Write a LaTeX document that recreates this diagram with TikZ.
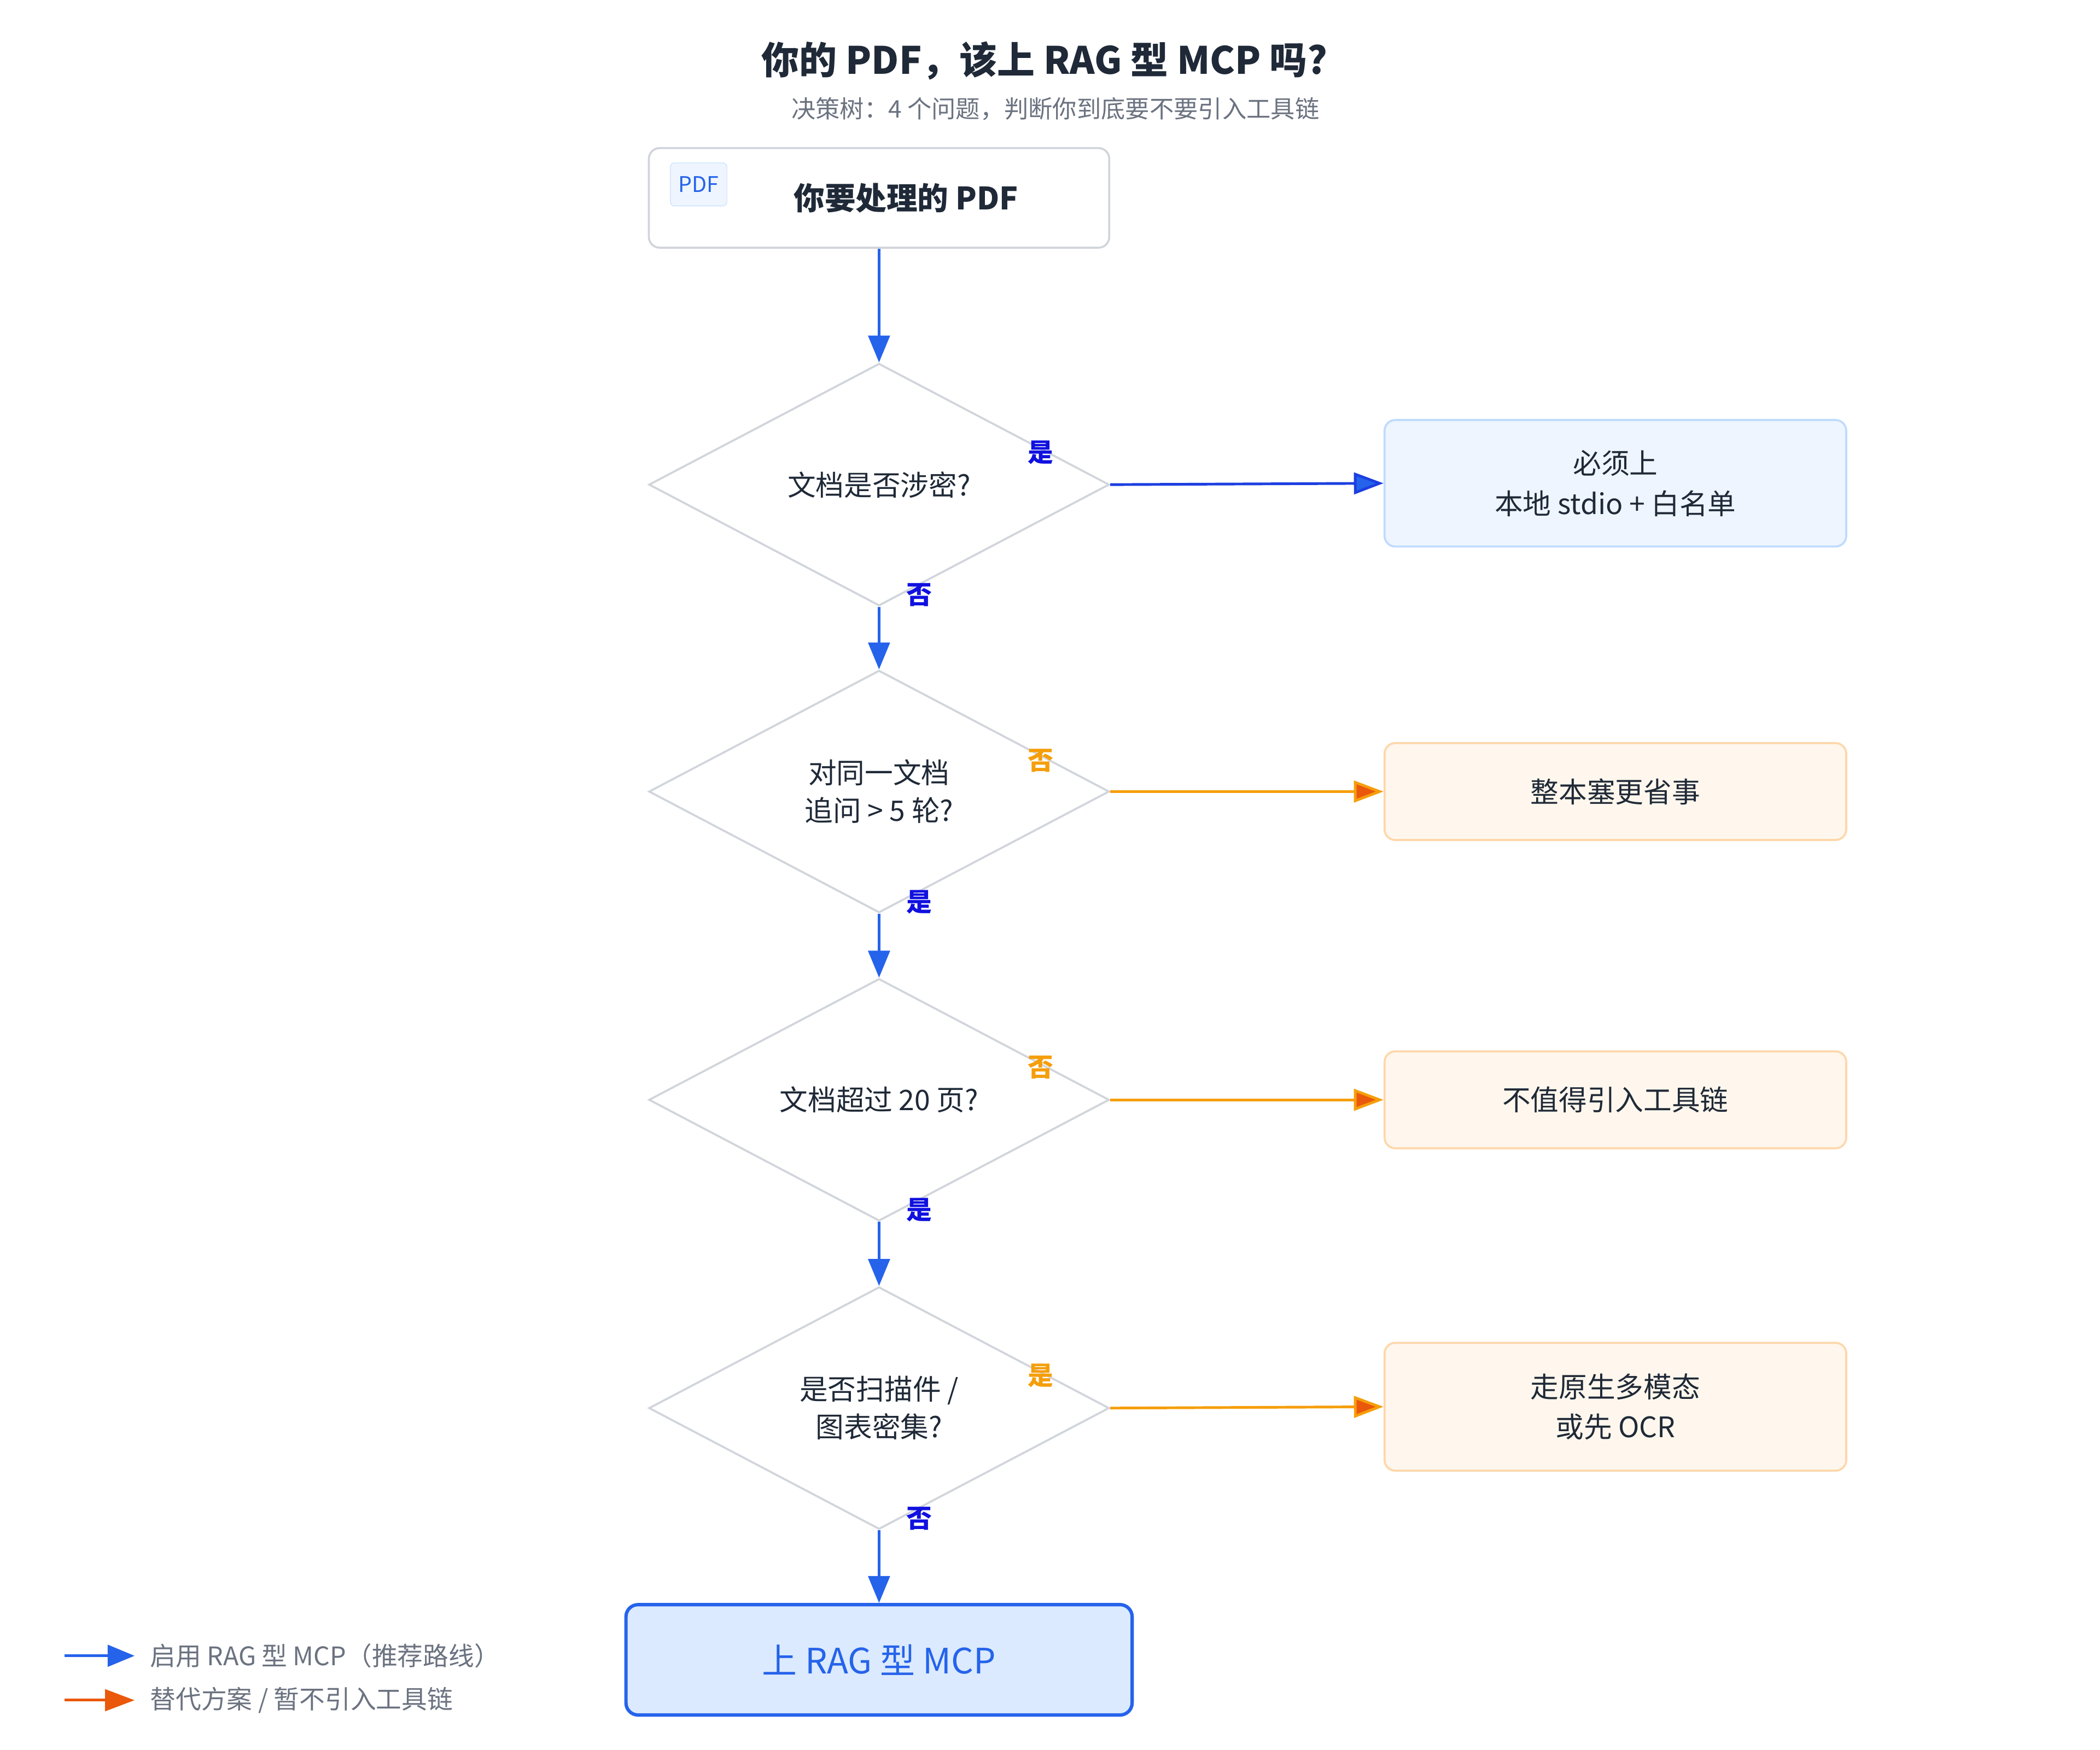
\documentclass[tikz,border=0pt]{standalone}
\usepackage{fontspec}
\setmainfont{Noto Sans CJK SC}
\usetikzlibrary{arrows.meta,shapes.geometric}
\definecolor{bl}{HTML}{2563EB}
\definecolor{dbl}{HTML}{1D3FE0}
\definecolor{lab}{HTML}{1010E0}
\definecolor{org}{HTML}{F59E0B}
\definecolor{orh}{HTML}{EA580C}
\definecolor{gr}{HTML}{D1D5DB}
\definecolor{txt}{HTML}{1F2937}
\definecolor{sub}{HTML}{6B7280}
\definecolor{bfill}{HTML}{EEF5FE}
\definecolor{bline}{HTML}{BFDBFE}
\definecolor{ofill}{HTML}{FFF7ED}
\definecolor{oline}{HTML}{FED7AA}
\definecolor{ffill}{HTML}{DBEAFE}
\begin{document}
\begin{tikzpicture}[x=1pt,y=-1pt,
 dia/.style={draw=gr,line width=1.5pt,diamond,aspect=1.9,minimum width=342pt,minimum height=180pt,inner sep=0pt,font=\fontsize{21}{28}\selectfont,text=txt,align=center},
 rbox/.style={rounded corners=8pt,line width=1.5pt,minimum width=343pt,align=center,font=\fontsize{21}{30}\selectfont,text=txt},
 ob/.style={rbox,draw=oline,fill=ofill,minimum height=72pt},
 ba/.style={draw=bl,line width=2pt,-{Triangle[length=20pt,width=16pt]}},
 oa/.style={draw=org,line width=2pt,-{Triangle[length=22pt,width=16pt,fill=orh]}},
 lb/.style={font=\bfseries\fontsize{19}{19}\selectfont,text=lab},
 lo/.style={font=\bfseries\fontsize{19}{19}\selectfont,text=org}]
\useasboundingbox (0,0) rectangle (1560,1300);
\node[font=\bfseries\fontsize{28}{30}\selectfont,text=txt] (title) at (776,45) {你的 PDF，该上 RAG 型 MCP 吗?};
\node[font=\fontsize{18}{20}\selectfont,text=sub] (subt) at (784,81) {决策树：4 个问题，判断你到底要不要引入工具链};
\node[draw=gr,line width=1.5pt,rounded corners=8pt,minimum width=342pt,minimum height=74pt] (start) at (653,147) {};
\node[font=\bfseries\fontsize{23}{26}\selectfont,text=txt] (startt) at (673,147) {你要处理的 PDF};
\node[draw=bline,fill=bfill,rounded corners=3pt,minimum width=42pt,minimum height=32pt,inner sep=0pt,text=bl,font=\fontsize{16}{18}\selectfont] (badge) at (519,137) {PDF};
\node[dia] (d1) at (653,360) {文档是否涉密?};
\node[dia] (d2) at (653,588) {对同一文档\\追问 > 5 轮?};
\node[dia] (d3) at (653,817) {文档超过 20 页?};
\node[dia] (d4) at (653,1046) {是否扫描件 /\\图表密集?};
\node[rbox,draw=bline,fill=bfill,minimum height=94pt] (r1) at (1200,359) {必须上\\本地 stdio + 白名单};
\node[ob] (r2) at (1200,588) {整本塞更省事};
\node[ob] (r3) at (1200,817) {不值得引入工具链};
\node[ob,minimum height=95pt] (r4) at (1200,1045) {走原生多模态\\或先 OCR};
\node[draw=bl,fill=ffill,line width=2.5pt,rounded corners=9pt,minimum width=376pt,minimum height=82pt,text=bl,font=\fontsize{26}{30}\selectfont] (fin) at (653,1233) {上 RAG 型 MCP};
\draw[ba] (start) -- (d1);
\draw[ba] (d1) -- (d2);
\draw[ba] (d2) -- (d3);
\draw[ba] (d3) -- (d4);
\draw[ba] (d4) -- (fin);
\draw[draw=dbl,line width=2pt,-{Triangle[length=22pt,width=16pt,fill=bl]}] (d1.east) -- (r1.west);
\draw[oa] (d2.east) -- (r2.west);
\draw[oa] (d3.east) -- (r3.west);
\draw[oa] (d4.east) -- (r4.west);
\node[lb] (l1a) at (773,336) {是}; \node[lb] (l1b) at (683,442) {否};
\node[lo] (l2a) at (773,565) {否}; \node[lb] (l2b) at (683,670) {是};
\node[lo] (l3a) at (773,793) {否}; \node[lb] (l3b) at (683,899) {是};
\node[lo] (l4a) at (773,1022) {是}; \node[lb] (l4b) at (683,1128) {否};
\coordinate (a1) at (48,1230); \coordinate (a2) at (100,1230);
\coordinate (b1) at (48,1263); \coordinate (b2) at (100,1263);
\draw[ba] (a1) -- (a2);
\draw[draw=orh,line width=2pt,-{Triangle[length=22pt,width=16pt]}] (b1) -- (b2);
\node[anchor=west,text=sub,font=\fontsize{19}{20}\selectfont] (lg1) at (108,1230) {启用 RAG 型 MCP（推荐路线）};
\node[anchor=west,text=sub,font=\fontsize{19}{20}\selectfont] (lg2) at (108,1263) {替代方案 / 暂不引入工具链};
\end{tikzpicture}
\end{document}
